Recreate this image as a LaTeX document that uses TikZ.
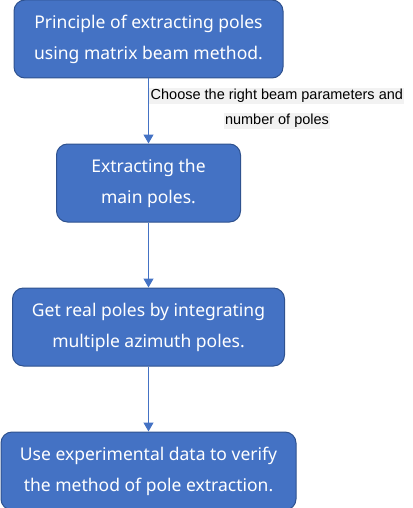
\documentclass[tikz,border=0pt]{standalone}
\usepackage{fontspec}
\setmainfont{Noto Sans}
\newfontfamily\notefont{Liberation Sans}
\usetikzlibrary{positioning,arrows.meta}
\definecolor{boxblue}{HTML}{4472C4}
\definecolor{boxedge}{HTML}{2F528F}
\definecolor{notegray}{HTML}{F2F2F2}

\begin{document}
\begin{tikzpicture}[x=1pt, y=1pt, node distance=144pt, on grid,
	stage/.style={rectangle, rounded corners=11pt, draw=boxedge, line width=1pt,
		fill=boxblue, text=white, align=center, inner sep=0pt, minimum height=78pt,
		font=\fontsize{17.5}{31}\selectfont},
	note/.style={fill=notegray, inner sep=1.5pt, font=\notefont\fontsize{14.5}{16}\selectfont},
	flow/.style={color=boxblue, line width=1.2pt, -{Triangle[width=10pt,length=9pt]}}]
	\useasboundingbox (0,0) rectangle (412,-508);

	\node[stage, minimum width=269pt] (0) at (148.5,-39) {Principle of extracting poles\\using matrix beam method.};
	\node[stage, minimum width=184pt] (1) [below=of 0] {Extracting the\\main poles.};
	\node[stage, minimum width=272pt] (2) [below=of 1] {Get real poles by integrating\\multiple azimuth poles.};
	\node[stage, minimum width=295pt] (3) [below=of 2] {Use experimental data to verify\\the method of pole extraction.};

	\node[note, anchor=west] (n1) at (149,-96) {Choose the right beam parameters and};
	\node[note] (n2) at (277,-121) {number of poles};

	\path[flow]
		(0) edge (1)
		(1) edge (2)
		(2) edge (3);
\end{tikzpicture}
\end{document}
